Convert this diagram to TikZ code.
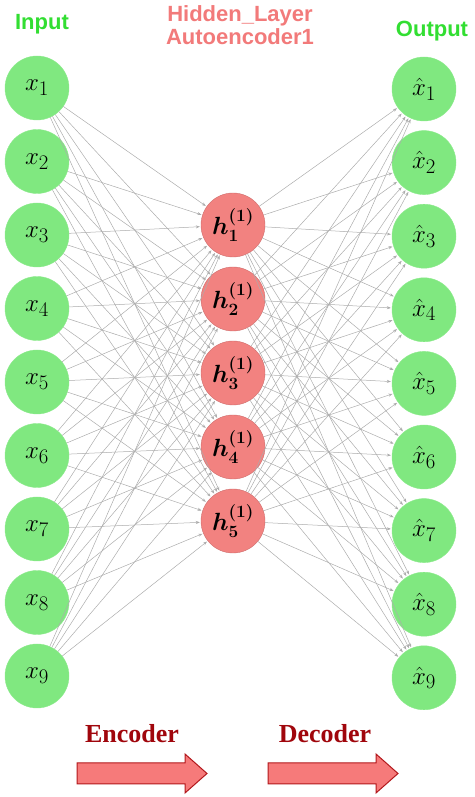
\documentclass[tikz,border=0pt]{standalone}
\usepackage{fontspec}
\usepackage{amsmath}
\newfontfamily\headfont{Liberation Sans}
\newfontfamily\codefont{Liberation Serif}
\definecolor{nodegreen}{RGB}{128,232,128}
\definecolor{labelgreen}{RGB}{50,222,50}
\definecolor{nodecoral}{RGB}{242,130,128}
\definecolor{labelcoral}{RGB}{242,122,122}
\definecolor{coderred}{RGB}{160,6,12}
\definecolor{arrowfill}{RGB}{246,122,122}
\definecolor{arrowline}{RGB}{178,24,28}
\usetikzlibrary{arrows.meta}

\begin{document}
\begin{tikzpicture}[x=1pt,y=1pt]
  \tikzset{greennode/.style={circle,fill=nodegreen,draw=nodegreen!90!white,minimum size=64pt,inner sep=0pt,font=\fontsize{29}{32}\selectfont},
    hiddennode/.style={circle,fill=nodecoral,draw=nodecoral!85!black,line width=0.4pt,minimum size=64pt,inner sep=0pt,font=\fontsize{24}{28}\selectfont\boldmath},
    link/.style={draw=gray!65,line width=0.5pt,-{Stealth[length=4pt,width=3pt]},shorten >=1pt},
    layerlabel/.style={anchor=base,font=\headfont\bfseries\fontsize{22}{23}\selectfont},
    codelabel/.style={anchor=base,text=coderred,font=\codefont\bfseries\fontsize{26}{28}\selectfont},
    bigarrow/.style={fill=arrowfill,draw=arrowline,line width=1pt,line join=miter}}
  \useasboundingbox (0,0) rectangle (474,797);
  \foreach \i in {1,...,9} \node[greennode] (x\i) at (37,{797-88-73.5*(\i-1)}) {$x_{\i}$};
  \foreach \j in {1,...,5} \node[hiddennode] (h\j) at (233,{797-225-74*(\j-1)}) {$h_{\j}^{(1)}$};
  \foreach \i in {1,...,9} \node[greennode] (y\i) at (424,{797-89-73.6*(\i-1)}) {$\hat{x}_{\i}$};
  \foreach \i in {1,...,9} \foreach \j in {1,...,5} {
    \draw[link] (x\i) -- (h\j);
    \draw[link] (h\j) -- (y\i);
  }
  \node[layerlabel,text=labelgreen] (inlabel) at (42,767) {Input};
  \node[layerlabel,text=labelgreen] (outlabel) at (432,760) {Output};
  \node[layerlabel,text=labelcoral,align=center] (hidlabel) at (240,752) {Hidden\_Layer\\Autoencoder1};
  \node[codelabel] (enc) at (132,54) {Encoder};
  \node[codelabel] (dec) at (325,54) {Decoder};
  \foreach \dx in {0,191}
    \draw[bigarrow] ({77+\dx},34) -- ({185+\dx},34) -- ({185+\dx},43) -- ({207+\dx},23.5)
      -- ({185+\dx},4) -- ({185+\dx},13) -- ({77+\dx},13) -- cycle;
\end{tikzpicture}
\end{document}
